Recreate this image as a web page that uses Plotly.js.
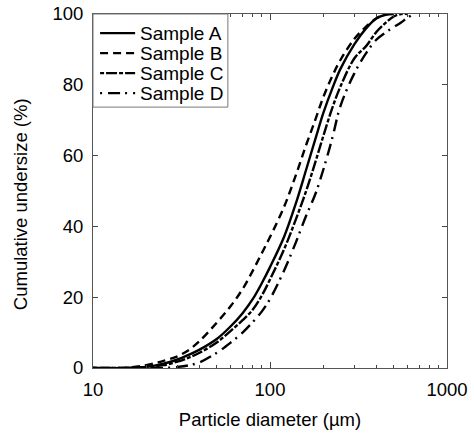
<!DOCTYPE html>
<html>
<head>
<meta charset="utf-8">
<script src="https://cdn.plot.ly/plotly-3.0.1.min.js"></script>
<style>
  html, body { margin: 0; padding: 0; background: #fff; }
  #chart { width: 474px; height: 438px; }
</style>
</head>
<body>
<div id="chart"></div>
<script>
// Particle diameters (µm) at which the cumulative undersize is given
const diameters = [10, 15, 20, 25, 30, 35, 40, 50, 60, 70, 80, 90, 100, 120, 140, 160, 180, 200, 225, 250, 300, 350, 400, 450, 500, 550, 600, 650];

// Cumulative undersize (%) for each sample
const sampleA = [0, 0, 0.3, 1.2, 2.4, 3.8, 5.2, 8.2, 11.8, 15.5, 19.5, 24, 28.5, 37, 46.5, 56, 64.5, 72, 79, 84.5, 91.5, 96, 98.8, 99.8, 100, null, null, null];
const sampleB = [0, 0, 0.8, 2, 3.3, 5.2, 7.6, 12.8, 17.5, 22.3, 27.5, 32.5, 37, 45.5, 54.5, 63, 70, 76.5, 82.5, 87, 93, 96.5, 98.8, 100, 100, null, null, null];
const sampleC = [0, 0, 0.2, 0.8, 1.8, 3, 4.3, 7.2, 10.5, 13.5, 16.5, 20.5, 25, 33.5, 42, 50, 58, 65.5, 73.5, 79.5, 87.5, 91, 95, 97.5, 99.3, 100, 100, null];
const sampleD = [0, 0, 0, 0, 0.3, 0.8, 1.6, 4.3, 7.2, 10, 13, 16, 19.5, 27.5, 35.5, 43, 49, 56, 65, 74, 83.3, 89, 92.8, 94.8, 96.3, 97.6, 99, 100];

// Axis ticks
const xTickVals = [10, 100, 1000];
const xTickText = ['10', '100', '1000'];
const xMinorVals = [20, 30, 40, 50, 60, 70, 80, 90, 200, 300, 400, 500, 600, 700, 800, 900];
const yTickVals = [0, 20, 40, 60, 80, 100];

const xTitle = 'Particle diameter (µm)';
const yTitle = 'Cumulative undersize (%)';

const seriesNames = ['Sample A', 'Sample B', 'Sample C', 'Sample D'];
const seriesValues = [sampleA, sampleB, sampleC, sampleD];
const dashStyles = ['solid', '8px,5px', '4px,2px,11px,2px', '2px,6px,12px,5px'];

const traces = seriesValues.map((vals, i) => ({
  x: diameters,
  y: vals,
  name: seriesNames[i],
  type: 'scatter',
  mode: 'lines',
  connectgaps: false,
  showlegend: false,
  line: { color: '#000', width: 2.4, dash: dashStyles[i], shape: 'spline', smoothing: 1 }
}));

const baseFont = 'Liberation Sans, Arial, sans-serif';
const tickFont = { family: baseFont, size: 18.5, color: '#000' };
const titleFont = { family: baseFont, size: 18.5, color: '#000' };

// Boxed key in the upper-left corner of the plot area
const key = { left: 0, right: 0.381, top: 1, bottom: 0.737,
              lineX0: 0.02, lineX1: 0.119, textX: 0.128, firstY: 0.946, step: 0.0565 };

const shapes = [{
  type: 'rect', xref: 'paper', yref: 'paper',
  x0: key.left, x1: key.right, y0: key.bottom, y1: key.top,
  line: { color: '#777', width: 1 }, fillcolor: '#fff', layer: 'above'
}];
const annotations = [];
seriesNames.forEach((name, i) => {
  const yy = key.firstY - i * key.step;
  shapes.push({
    type: 'line', xref: 'paper', yref: 'paper',
    x0: key.lineX0, x1: key.lineX1, y0: yy, y1: yy,
    line: { color: '#000', width: 2.4, dash: dashStyles[i] }, layer: 'above'
  });
  annotations.push({
    xref: 'paper', yref: 'paper', x: key.textX, y: yy,
    xanchor: 'left', yanchor: 'middle', showarrow: false,
    text: name, font: { family: baseFont, size: 19, color: '#000' }
  });
});

// Vertical axis title, set slightly below the middle of the axis
annotations.push({
  xref: 'paper', yref: 'paper', x: -0.206, y: 0.463,
  xanchor: 'center', yanchor: 'middle', showarrow: false, textangle: -90,
  text: yTitle, font: titleFont
});

const layout = {
  width: 474,
  height: 438,
  margin: { l: 93, r: 27, t: 14, b: 70 },
  paper_bgcolor: '#fff',
  plot_bgcolor: '#fff',
  showlegend: false,
  shapes: shapes,
  annotations: annotations,
  xaxis: {
    type: 'log',
    range: [1, 3],
    tickmode: 'array',
    tickvals: xTickVals,
    ticktext: xTickText,
    ticks: 'inside',
    ticklen: 6,
    tickcolor: '#444',
    ticklabelstandoff: 5,
    showline: true,
    linecolor: '#555',
    linewidth: 1,
    mirror: 'ticks',
    showgrid: false,
    zeroline: false,
    tickfont: tickFont,
    minor: { tickmode: 'array', tickvals: xMinorVals, ticks: 'inside', ticklen: 3, tickcolor: '#444', showgrid: false },
    title: { text: xTitle, font: titleFont, standoff: 13 }
  },
  yaxis: {
    range: [0, 100],
    tickmode: 'array',
    tickvals: yTickVals,
    ticks: 'inside',
    ticklen: 5,
    tickcolor: '#444',
    ticklabelstandoff: 5,
    showline: true,
    linecolor: '#555',
    linewidth: 1,
    mirror: 'ticks',
    showgrid: false,
    zeroline: false,
    tickfont: tickFont
  }
};

Plotly.newPlot('chart', traces, layout, { displayModeBar: false, staticPlot: true });
</script>
</body>
</html>
